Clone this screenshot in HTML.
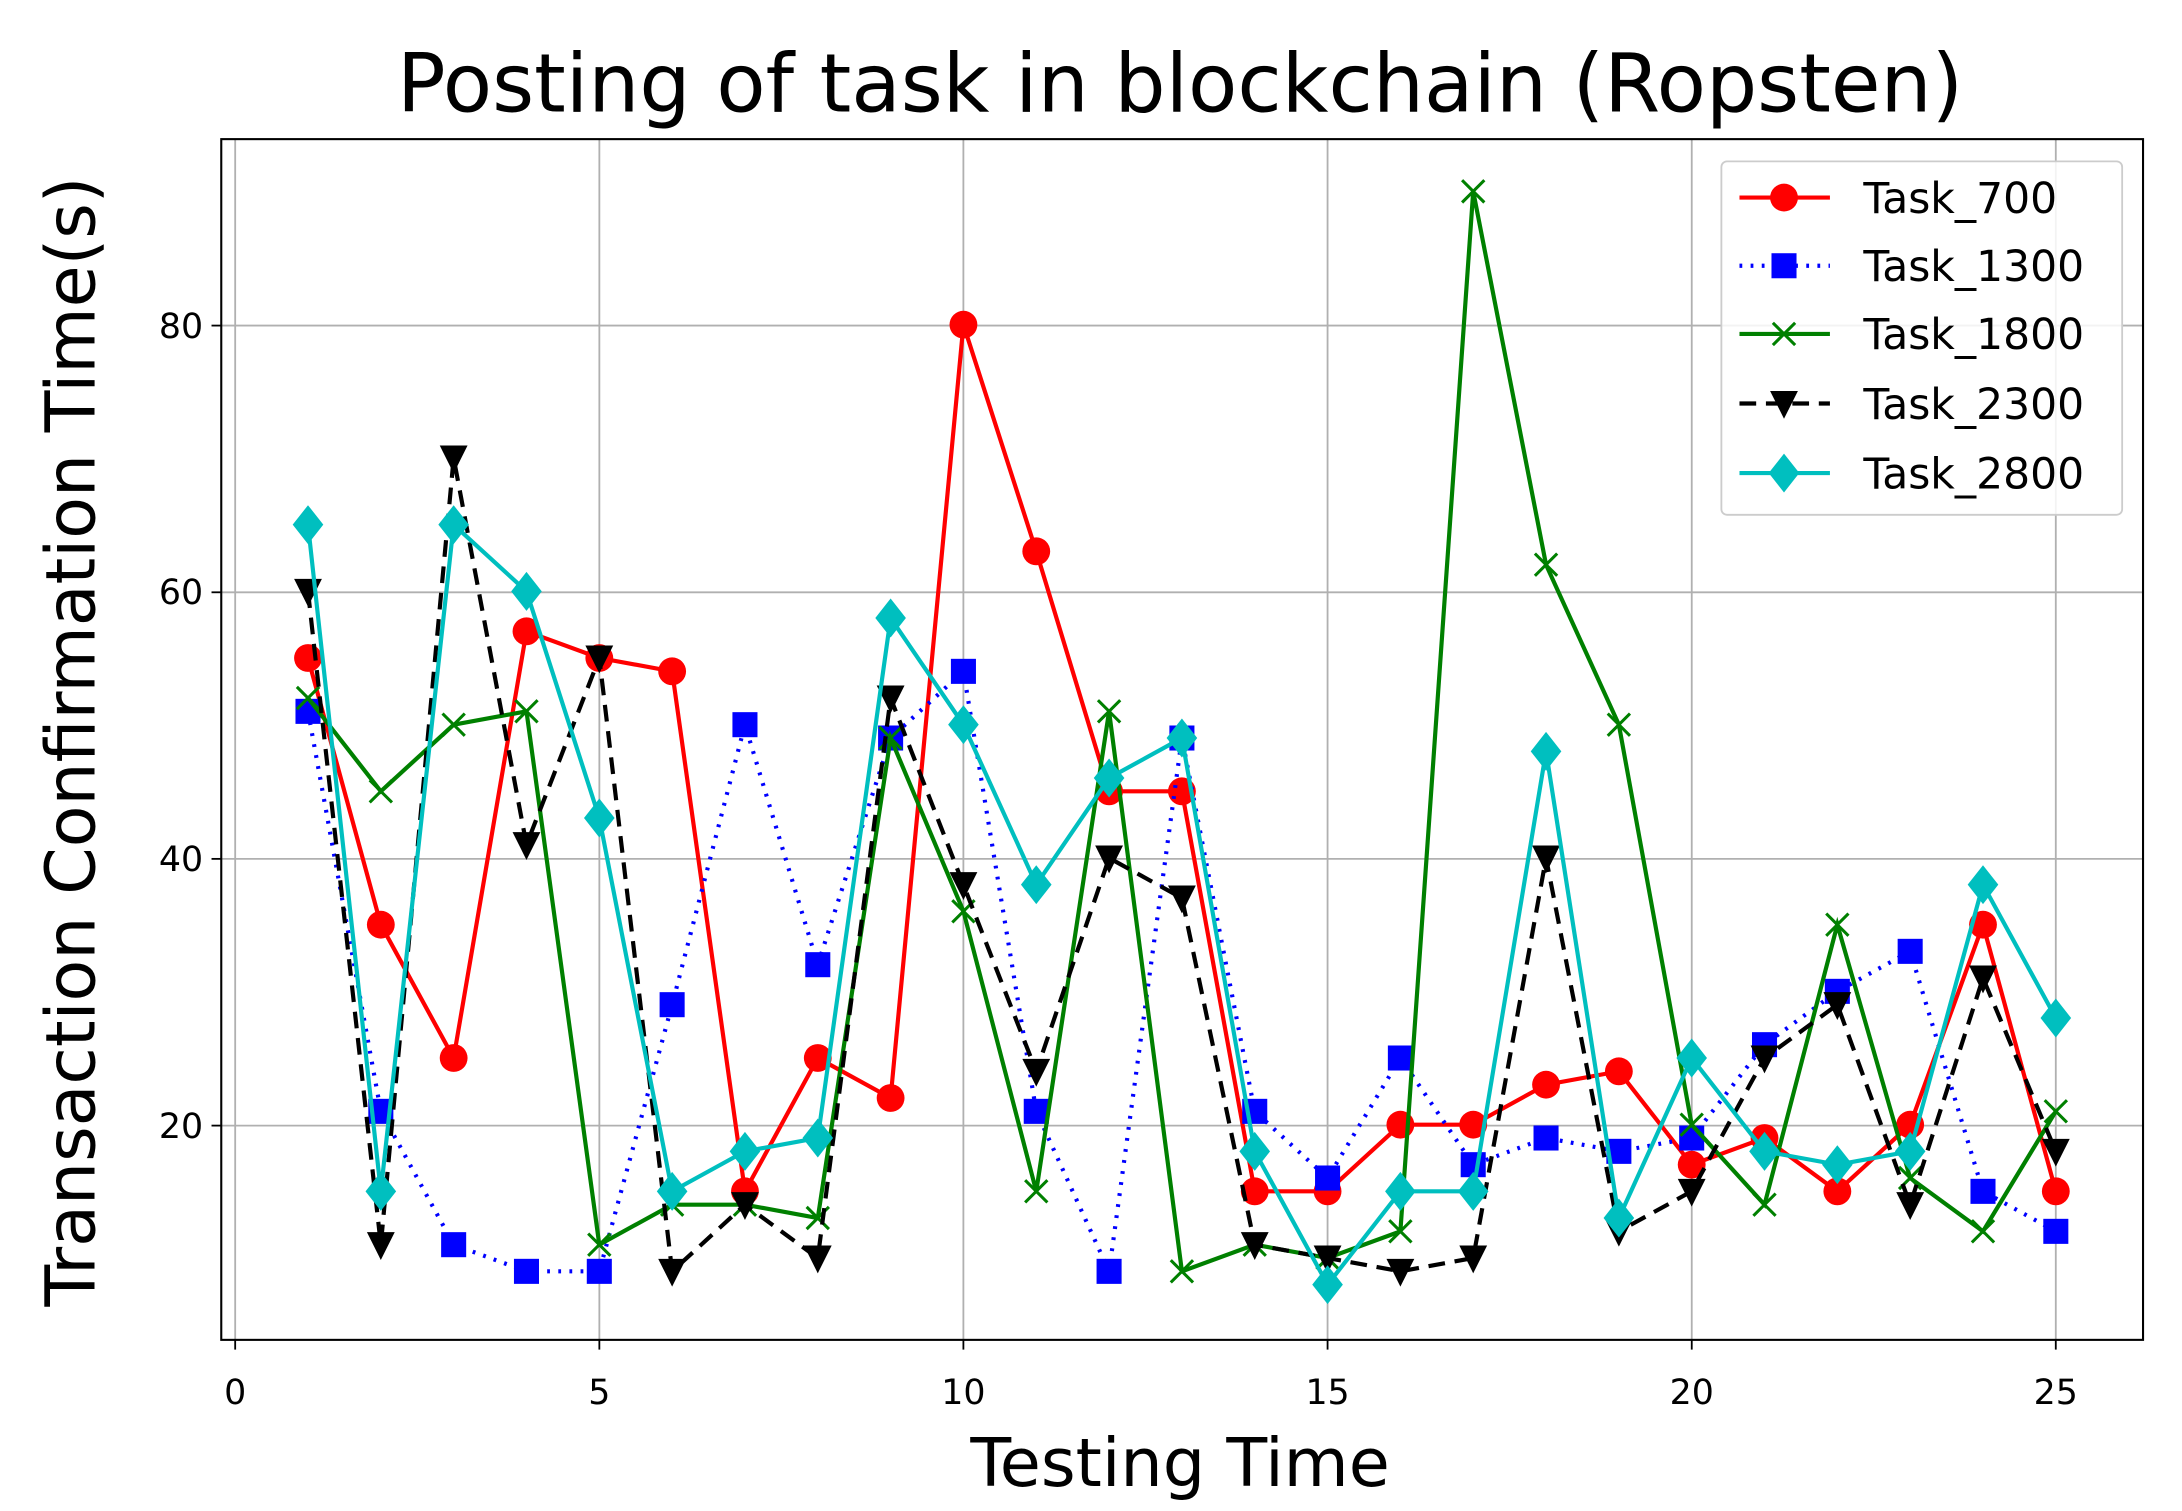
<!DOCTYPE html>
<html><head><meta charset="utf-8"><style>html,body{margin:0;padding:0;background:#fff}svg{display:block}</style></head>
<body>
<svg id="s" width="2182" height="1511" viewBox="0 0 1568 1086" preserveAspectRatio="none" xmlns="http://www.w3.org/2000/svg" font-family="'DejaVu Sans','Liberation Sans',sans-serif">
<rect width="1568" height="1086" fill="#fff"/>
<g stroke="#b0b0b0" stroke-width="1.3">
<line x1="169" y1="100" x2="169" y2="963"/><line x1="430.7" y1="100" x2="430.7" y2="963"/><line x1="692.3" y1="100" x2="692.3" y2="963"/><line x1="954" y1="100" x2="954" y2="963"/><line x1="1215.7" y1="100" x2="1215.7" y2="963"/><line x1="1477.3" y1="100" x2="1477.3" y2="963"/>
<line x1="159" y1="234" x2="1540" y2="234"/><line x1="159" y1="425.7" x2="1540" y2="425.7"/><line x1="159" y1="617.3" x2="1540" y2="617.3"/><line x1="159" y1="809" x2="1540" y2="809"/>
</g>
<g id="series"></g>
<rect x="159" y="100" width="1381" height="863" fill="none" stroke="#000" stroke-width="1.5"/>
<g stroke="#000" stroke-width="1.3">
<line x1="169" y1="963" x2="169" y2="970"/><line x1="430.7" y1="963" x2="430.7" y2="970"/><line x1="692.3" y1="963" x2="692.3" y2="970"/><line x1="954" y1="963" x2="954" y2="970"/><line x1="1215.7" y1="963" x2="1215.7" y2="970"/><line x1="1477.3" y1="963" x2="1477.3" y2="970"/>
<line x1="152" y1="234" x2="159" y2="234"/><line x1="152" y1="425.7" x2="159" y2="425.7"/><line x1="152" y1="617.3" x2="159" y2="617.3"/><line x1="152" y1="809" x2="159" y2="809"/>
</g>
<g font-size="25" fill="#000" text-anchor="middle">
<text x="169" y="1009">0</text><text x="430.7" y="1009">5</text><text x="692.3" y="1009">10</text><text x="954" y="1009">15</text><text x="1215.7" y="1009">20</text><text x="1477.3" y="1009">25</text>
</g>
<g font-size="25" fill="#000" text-anchor="end">
<text x="146" y="243">80</text><text x="146" y="434">60</text><text x="146" y="626">40</text><text x="146" y="818">20</text>
</g>
<text x="848" y="80" font-size="58" text-anchor="middle">Posting of task in blockchain (Ropsten)</text>
<text x="848" y="1068" font-size="48" text-anchor="middle">Testing Time</text>
<text transform="translate(68,533) rotate(-90)" font-size="49" text-anchor="middle">Transaction Confirmation Time(s)</text>
<rect x="1237" y="116" width="288" height="254" rx="4" fill="#fff" fill-opacity="0.85" stroke="#ccc" stroke-width="1.3"/>
<g id="leg"></g>
<g font-size="30.5" fill="#000">
<text x="1339" y="153">Task_700</text><text x="1339" y="202">Task_1300</text><text x="1339" y="251">Task_1800</text><text x="1339" y="301">Task_2300</text><text x="1339" y="351">Task_2800</text>
</g>
</svg>
<script>
const D=[
{c:'#ff0000',d:'',m:'o',v:[55,35,25,57,55,54,15,25,22,80,63,45,45,15,15,20,20,23,24,17,19,15,20,35,15]},
{c:'#0000ff',d:'2,6',m:'s',v:[51,21,11,9,9,29,50,32,49,54,21,9,49,21,16,25,17,19,18,19,26,30,33,15,12]},
{c:'#008000',d:'',m:'x',v:[52,45,50,51,11,14,14,13,49,36,15,51,9,11,10,12,90,62,50,20,14,35,16,12,21]},
{c:'#000000',d:'12,7',m:'v',v:[60,11,70,41,55,9,14,10,52,38,24,40,37,11,10,9,10,40,12,15,25,29,14,31,18]},
{c:'#00bfbf',d:'',m:'d',v:[65,15,65,60,43,15,18,19,58,50,38,46,49,18,8,15,15,48,13,25,18,17,18,38,28]}];
const NS='http://www.w3.org/2000/svg';
const X=i=>169+52.333*i, Y=v=>1000-9.583*v;
function el(p,t,a){const e=document.createElementNS(NS,t);for(const k in a)e.setAttribute(k,a[k]);p.appendChild(e);return e;}
function mk(g,m,x,y,c){
 if(m=='o')el(g,'circle',{cx:x,cy:y,r:10,fill:c});
 else if(m=='s')el(g,'rect',{x:x-9,y:y-9,width:18,height:18,fill:c});
 else if(m=='x'){el(g,'path',{d:`M${x-8} ${y-8}L${x+8} ${y+8}M${x-8} ${y+8}L${x+8} ${y-8}`,stroke:c,'stroke-width':2.2,fill:'none'});}
 else if(m=='v')el(g,'path',{d:`M${x-10} ${y-9}L${x+10} ${y-9}L${x} ${y+11}Z`,fill:c});
 else if(m=='d')el(g,'path',{d:`M${x} ${y-14}L${x+11} ${y}L${x} ${y+14}L${x-11} ${y}Z`,fill:c});
}
const g=document.getElementById('series'),L=document.getElementById('leg');
const ly=[142,191,240,290,340];
D.forEach((s,k)=>{
 el(g,'polyline',{points:s.v.map((v,i)=>X(i+1)+','+Y(v)).join(' '),fill:'none',stroke:s.c,'stroke-width':3,'stroke-dasharray':s.d||'none'});
 s.v.forEach((v,i)=>mk(g,s.m,X(i+1),Y(v),s.c));
 el(L,'line',{x1:1250,y1:ly[k],x2:1315,y2:ly[k],stroke:s.c,'stroke-width':3,'stroke-dasharray':s.d||'none'});
 mk(L,s.m,1282,ly[k],s.c);
});
</script>
</body></html>
